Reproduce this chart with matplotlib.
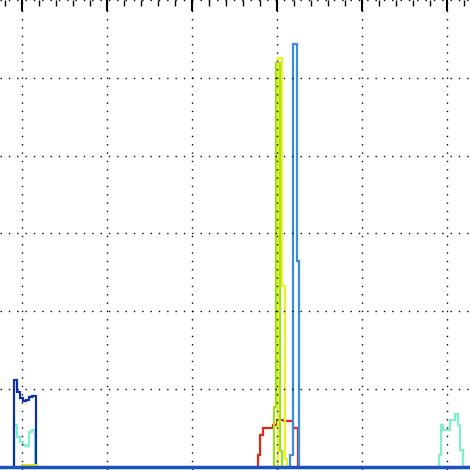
import matplotlib
matplotlib.use("Agg")
import matplotlib.pyplot as plt
from matplotlib.ticker import MultipleLocator

navy_edges = [-0.094, -0.059, -0.024, 0.012, 0.047, 0.082, 0.118, 0.165]
navy_h = [1.12, 0.96, 0.88, 0.85, 0.86, 0.90, 0.91]
aqua_l_edges = [-0.094, -0.059, -0.024, 0.012, 0.047, 0.082, 0.118, 0.153]
aqua_l_h = [0.54, 0.38, 0.32, 0.28, 0.27, 0.45, 0.47]
ylw_l_edges = [0.0, 0.18]
ylw_l_h = [0.03]
red_edges = [2.776, 2.800, 2.835, 2.953, 3.0, 3.082, 3.188, 3.247]
red_h = [0.15, 0.41, 0.50, 0.54, 0.60, 0.59, 0.50]
green_edges = [2.965, 2.988, 3.035, 3.059]
green_h = [0.77, 5.19, 0.20]
yellow_edges = [3.012, 3.059, 3.094, 3.118]
yellow_h = [5.26, 2.33, 0.10]
blue_edges = [3.153, 3.188, 3.235, 3.259]
blue_h = [0.15, 5.44, 2.65]
aqua_r_edges = [4.906, 4.929, 4.953, 5.035, 5.094, 5.129, 5.153, 5.188]
aqua_r_h = [0.15, 0.54, 0.47, 0.60, 0.68, 0.54, 0.22]

fig = plt.figure(figsize=(4.7, 4.7), dpi=100)
ax = fig.add_axes([0, 0, 1, 1])
lw = 1.6
ax.stairs(aqua_l_h, aqua_l_edges, color="#7ff0c8", lw=lw)
ax.stairs(navy_h, navy_edges, color="#1030a8", lw=lw)
ax.stairs(ylw_l_h, ylw_l_edges, color="#d8e820", lw=lw)
ax.stairs(red_h, red_edges, color="#e02818", lw=lw)
ax.stairs(green_h, green_edges, color="#98e020", lw=lw)
ax.stairs(yellow_h, yellow_edges, color="#e8f028", lw=lw)
ax.stairs(blue_h, blue_edges, color="#3a8ee0", lw=lw)
ax.stairs(aqua_r_h, aqua_r_edges, color="#7ff0c8", lw=lw)
ax.axhline(0, color="#2050c0", lw=2.5)

ax.set_xlim(-0.259, 5.27)
ax.set_ylim(-0.04, 6.0)
ax.xaxis.set_major_locator(MultipleLocator(1))
ax.xaxis.set_minor_locator(MultipleLocator(0.2))
ax.yaxis.set_major_locator(MultipleLocator(1))
ax.grid(True, which="major", color="black", linestyle=(0, (1, 5)), lw=1)
ax.tick_params(which="both", direction="in", top=True, bottom=False, left=False, right=False,
               labelbottom=False, labelleft=False)
ax.tick_params(which="major", length=8, width=1.5)
ax.tick_params(which="minor", length=4, width=1)
for s in ax.spines.values():
    s.set_visible(False)
fig.savefig("out.png", dpi=100)
